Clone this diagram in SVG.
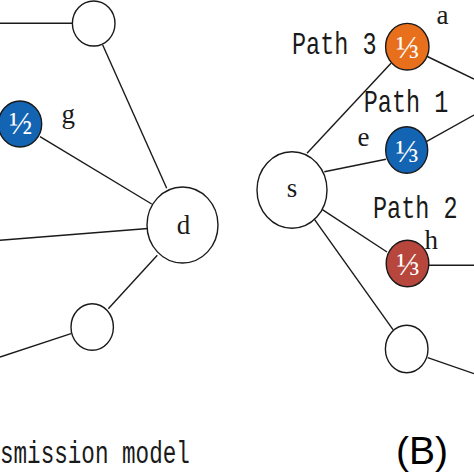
<svg xmlns="http://www.w3.org/2000/svg" width="474" height="474" viewBox="0 0 474 474">
<style>
.edge{stroke:#1a1a1a;stroke-width:1.4;fill:none}
.node{stroke:#1a1a1a;stroke-width:1.4}
.w{fill:#ffffff}
.blue{fill:#1464b4}
.orange{fill:#e8701c}
.red{fill:#b7463c}
.lbl{font-family:"Liberation Serif","DejaVu Serif",serif;font-size:27px;fill:#1a1a1a}
.frac{font-family:"Liberation Serif","DejaVu Serif",serif;font-size:31px;fill:#ffffff;text-anchor:middle}
.mono{font-family:"Liberation Mono","DejaVu Sans Mono",monospace;font-size:23.5px;fill:#1a1a1a}
.sans{font-family:"Liberation Sans",Arial,sans-serif;font-size:39px;fill:#000}
</style>
<rect width="474" height="474" fill="#ffffff"/>
<g id="connectors">
<line class="edge" x1="0" y1="23.3" x2="72.5" y2="23.3"/>
<line class="edge" x1="102.7" y1="45" x2="166.7" y2="188.3"/>
<line class="edge" x1="40" y1="136.7" x2="151.7" y2="204"/>
<line class="edge" x1="0" y1="240.3" x2="148" y2="228.5"/>
<line class="edge" x1="108.3" y1="308.7" x2="157.3" y2="255.3"/>
<line class="edge" x1="71" y1="333.7" x2="0" y2="357"/>
<line class="edge" x1="307" y1="153.3" x2="391" y2="63.3"/>
<line class="edge" x1="324.3" y1="171.7" x2="386" y2="159.3"/>
<line class="edge" x1="426.3" y1="56" x2="474" y2="79"/>
<line class="edge" x1="426.3" y1="141.7" x2="474" y2="115"/>
<line class="edge" x1="322" y1="209.3" x2="387" y2="252"/>
<line class="edge" x1="313.7" y1="218.3" x2="393" y2="329.7"/>
<line class="edge" x1="428" y1="265.3" x2="474" y2="265.3"/>
<line class="edge" x1="427.7" y1="357.7" x2="474" y2="373.7"/>
</g>
<g id="node-top"><ellipse class="node w" cx="93.7" cy="23.5" rx="21.3" ry="22.5"/></g>
<g id="node-g"><ellipse class="node blue" cx="20" cy="124" rx="21.7" ry="23"/><text class="frac" x="20.5" y="134">½</text><text class="lbl" x="61.5" y="123">g</text></g>
<g id="node-d"><ellipse class="node w" cx="182.5" cy="225" rx="35.5" ry="38"/><text class="lbl" x="183.5" y="234" text-anchor="middle">d</text></g>
<g id="node-bottom-left"><ellipse class="node w" cx="92.2" cy="327" rx="21.2" ry="23.3"/></g>
<g id="node-s"><ellipse class="node w" cx="292" cy="190" rx="35" ry="38.3"/><text class="lbl" x="292" y="197" text-anchor="middle">s</text></g>
<g id="node-a"><ellipse class="node orange" cx="407.3" cy="46.7" rx="21.7" ry="23.3"/><text class="frac" x="407.5" y="58">⅓</text><text class="lbl" x="436.5" y="24">a</text><text class="mono" transform="translate(292,54) scale(1,1.36)">Path 3</text></g>
<g id="node-e"><ellipse class="node blue" cx="406.7" cy="150" rx="21" ry="23.3"/><text class="frac" x="407" y="162">⅓</text><text class="lbl" x="357.5" y="145.7">e</text><text class="mono" transform="translate(363.7,112.3) scale(1,1.36)">Path 1</text></g>
<g id="node-h"><ellipse class="node red" cx="407.5" cy="263.5" rx="21.3" ry="23.3"/><text class="frac" x="408" y="275">⅓</text><text class="lbl" x="424.5" y="249">h</text><text class="mono" transform="translate(373,218.3) scale(1,1.36)">Path 2</text></g>
<g id="node-bottom-right"><ellipse class="node w" cx="406.7" cy="349" rx="21.3" ry="23.7"/></g>
<text class="mono" transform="translate(0,463) scale(1,1.4)" style="font-size:22.6px">smission model</text>
<text class="sans" x="396" y="464">(B)</text>
</svg>
